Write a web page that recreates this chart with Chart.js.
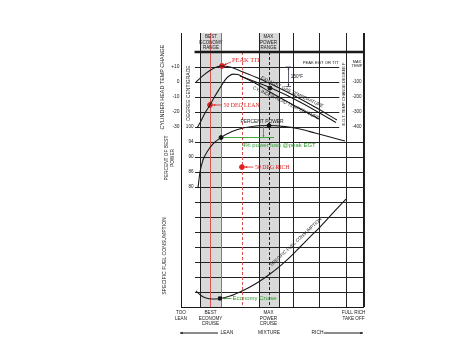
<!DOCTYPE html>
<html><head><meta charset="utf-8">
<script src="https://cdn.jsdelivr.net/npm/chart.js@4.4.1/dist/chart.umd.min.js"></script>
<style>html,body{margin:0;padding:0;background:#fff;}#wrap{width:474px;height:355px;}</style>
</head><body><div id="wrap"><canvas id="c" width="474" height="355"></canvas></div>
<script>
// x: mixture position, 0 = too lean ... 100 = full rich
// y: grid rows counted from the bottom line (row 17 = heavy top line)
const gridX     = [0, 10.4, 15.85, 21.9, 33.3, 42.6, 48.1, 53.6, 61.2, 75.4, 90.2, 100];
const gridKind  = ['k','k','r','r','rd','k','kd','k','k','k','k','k'];
const bandFrom  = [10.4, 42.6];
const bandTo    = [21.9, 53.6];

const chtTicks   = ['+10','0','-10','-20','-30'];
const chtRows    = [16, 15, 14, 13, 12];
const powerTicks = ['100','94','90','86','80'];
const powerRows  = [12, 11, 10, 9, 8];
const egtTicks   = ['-100','-200','-300','-400'];
const egtRows    = [15, 14, 13, 12];

const egtMix  = [8.2, 12.0, 15.8, 19.1, 22.4, 26.8, 33.9, 43.2, 51.4, 61.2, 73.2, 85.2];
const egtRow  = [15.0, 15.43, 15.77, 15.98, 16.07, 16.0, 15.67, 15.2, 14.73, 14.13, 13.33, 12.47];
const egt2Mix = [32.2, 48.6, 65.0, 84.7];
const egt2Row = [15.4, 14.63, 13.67, 12.3];
const chtMix  = [8.74, 10.93, 13.11, 15.85, 18.58, 21.31, 24.04, 26.23, 28.42, 31.15, 34.43, 40.44, 48.63, 62.3, 75.4];
const chtRow  = [11.93, 12.4, 12.93, 13.47, 14.07, 14.6, 15.13, 15.4, 15.53, 15.5, 15.3, 14.93, 14.33, 13.4, 12.53];
const powMix  = [9.29, 10.38, 12.02, 14.21, 17.49, 21.86, 27.87, 33.88, 40.98, 48.09, 56.83, 65.03, 73.22, 81.42, 89.62];
const powRow  = [7.93, 9.0, 9.8, 10.33, 10.87, 11.3, 11.7, 11.93, 12.07, 12.1, 12.03, 11.87, 11.6, 11.33, 11.07];
const sfcMix  = [8.2, 10.93, 13.66, 16.94, 21.31, 26.78, 32.24, 37.7, 43.17, 48.63, 54.1, 59.56, 65.03, 70.49, 75.96, 83.06, 90.16];
const sfcRow  = [1.07, 0.77, 0.6, 0.53, 0.57, 0.73, 1.0, 1.33, 1.73, 2.2, 2.73, 3.33, 4.0, 4.67, 5.33, 6.27, 7.2];

const redMarkMix = [22.4, 15.85, 33.3];      // peak TIT, 50 deg lean, 50 deg rich
const redMarkRow = [16.07, 13.47, 9.33];
const blkMarkMix = [48.6, 48.1, 21.9, 21.3];  // EGT @max power, max power, 94%, economy cruise
const blkMarkRow = [14.6, 12.1, 11.3, 0.57];
const blkMarkStyle = ['circle','rectRot','circle','rect'];

const pts = (xs, ys) => xs.map((v, i) => ({x: v, y: ys[i]}));
const curve = (xs, ys) => ({data: pts(xs, ys), borderColor: '#1a1a1a', borderWidth: 1.1, pointRadius: 0,
  fill: false, cubicInterpolationMode: 'monotone', tension: 0.4});

const SANS = '"Liberation Sans", Arial, sans-serif';
const SERIF = '"Liberation Serif", "Times New Roman", serif';

function txt(ctx, s, x, y, o = {}) {
  ctx.save();
  ctx.font = (o.size || 4.5) + 'px ' + (o.font || SANS);
  ctx.fillStyle = o.color || '#1a1a1a';
  ctx.textAlign = o.align || 'center';
  ctx.textBaseline = 'middle';
  ctx.translate(x, y);
  if (o.rot) ctx.rotate(o.rot * Math.PI / 180);
  ctx.fillText(s, 0, 0);
  ctx.restore();
}
function arrow(ctx, x1, y1, x2, y2, color, head = 2.5, w = 0.8) {
  ctx.save();
  ctx.strokeStyle = color; ctx.fillStyle = color; ctx.lineWidth = w;
  ctx.beginPath(); ctx.moveTo(x1, y1); ctx.lineTo(x2, y2); ctx.stroke();
  const a = Math.atan2(y2 - y1, x2 - x1);
  ctx.beginPath();
  ctx.moveTo(x2, y2);
  ctx.lineTo(x2 - head * Math.cos(a - 0.45), y2 - head * Math.sin(a - 0.45));
  ctx.lineTo(x2 - head * Math.cos(a + 0.45), y2 - head * Math.sin(a + 0.45));
  ctx.closePath(); ctx.fill();
  ctx.restore();
}

const diagram = {
  id: 'diagram',
  beforeDatasetsDraw(chart) {
    const {ctx, scales: {x, y}} = chart;
    const X = v => x.getPixelForValue(v), Y = v => y.getPixelForValue(v);
    ctx.save();
    ctx.fillStyle = '#fff'; ctx.fillRect(0, 0, chart.width, chart.height);
    ctx.fillStyle = '#d9d9d9';
    bandFrom.forEach((a, i) => ctx.fillRect(X(a), Y(y.max), X(bandTo[i]) - X(a), Y(0) - Y(y.max)));
    // horizontal grid rows
    ctx.strokeStyle = '#222'; ctx.lineWidth = 1;
    for (let r = 1; r <= 16; r++) {
      const yy = Math.round(Y(r)) + 0.5;
      ctx.beginPath(); ctx.moveTo(X(7.65), yy); ctx.lineTo(X(r >= 12 ? 86.5 : 100), yy); ctx.stroke();
    }
    // vertical grid lines
    for (let i = 0; i < gridX.length; i++) {
      const k = gridKind[i];
      const xx = Math.round(X(gridX[i])) + 0.5;
      ctx.save();
      ctx.strokeStyle = k.charAt(0) === 'r' ? '#d9534f' : '#222';
      ctx.lineWidth = 1;
      const dashed = k.charAt(1) === 'd';
      ctx.setLineDash(dashed ? [3, 2] : []);
      const top = dashed ? Y(17) : Y(y.max);
      ctx.beginPath(); ctx.moveTo(xx, top); ctx.lineTo(xx, Y(0)); ctx.stroke();
      ctx.restore();
    }
    // heavy line and bottom line
    ctx.strokeStyle = '#1a1a1a'; ctx.lineWidth = 2.5;
    ctx.beginPath(); ctx.moveTo(X(7.4), Y(17)); ctx.lineTo(X(100), Y(17)); ctx.stroke();
    ctx.lineWidth = 1.2;
    ctx.beginPath(); ctx.moveTo(X(0), Math.round(Y(0)) + 0.5); ctx.lineTo(X(100), Math.round(Y(0)) + 0.5); ctx.stroke();
    ctx.restore();
  },
  afterDatasetsDraw(chart) {
    const {ctx, scales: {x, y}} = chart;
    const X = v => x.getPixelForValue(v), Y = v => y.getPixelForValue(v);
    // headers
    ['BEST','ECONOMY','RANGE'].forEach((s, i) => txt(ctx, s, 211, 37 + i * 5.5, {size: 4.5}));
    ['MAX','POWER','RANGE'].forEach((s, i) => txt(ctx, s, 268.5, 37 + i * 5.5, {size: 4.5}));
    // left axis titles & ticks
    txt(ctx, 'CYLINDER HEAD TEMP CHANGE', 163, 87, {size: 5.4, rot: -90});
    txt(ctx, 'PERCENT OF BEST', 167, 158, {size: 4.8, rot: -90});
    txt(ctx, 'POWER', 173, 158, {size: 4.8, rot: -90});
    txt(ctx, 'SPECIFIC FUEL CONSUMPTION', 165, 256, {size: 5.1, rot: -90});
    txt(ctx, 'DEGREE CENTIGRADE', 189, 93, {size: 5, rot: -90});
    chtTicks.forEach((s, i) => txt(ctx, s, 179.5, Y(chtRows[i]), {size: 4.9, align: 'right'}));
    powerTicks.forEach((s, i) => txt(ctx, s, 193.5, Y(powerRows[i]), {size: 4.6, align: 'right'}));
    // right side
    txt(ctx, 'PEAK EGT OR TIT', 338.5, 63, {size: 4.2, align: 'right'});
    txt(ctx, 'MAX', 357, 61.5, {size: 3.9});
    txt(ctx, 'TEMP', 357, 66, {size: 3.9});
    egtTicks.forEach((s, i) => txt(ctx, s, 357, Y(egtRows[i]), {size: 4.6}));
    txt(ctx, 'E.G.T. TEMP CHANGE DEGREE F', 343.5, 94, {size: 4, rot: -90});
    // bottom labels
    txt(ctx, 'TOO', 181, 313, {size: 4.6}); txt(ctx, 'LEAN', 181, 318.5, {size: 4.6});
    ['BEST','ECONOMY','CRUISE'].forEach((s, i) => txt(ctx, s, 210.5, 313 + i * 5.5, {size: 4.6}));
    ['MAX','POWER','CRUISE'].forEach((s, i) => txt(ctx, s, 268.5, 313 + i * 5.5, {size: 4.6}));
    txt(ctx, 'FULL RICH', 353.5, 313, {size: 4.6}); txt(ctx, 'TAKE OFF', 353.5, 318.5, {size: 4.6});
    arrow(ctx, 218, 333, 180, 333, '#1a1a1a', 3, 1);
    txt(ctx, 'LEAN', 227, 333, {size: 4.9});
    txt(ctx, 'MIXTURE', 269, 333, {size: 4.9});
    txt(ctx, 'RICH', 317.5, 333, {size: 4.9});
    arrow(ctx, 324, 333, 363, 333, '#1a1a1a', 3, 1);
    // curve labels
    txt(ctx, 'EXHAUST GAS TEMPERATURE', 292, 92, {size: 4.6, rot: 25});
    txt(ctx, 'CYLINDER HEAD TEMPERATURE', 286, 103, {size: 4.6, rot: 25});
    txt(ctx, 'PERCENT POWER', 262, 122, {size: 4.9});
    txt(ctx, 'SPECIFIC FUEL CONSUMPTION', 296, 242, {size: 4.5, rot: -43});
    // 150F bracket
    ctx.save(); ctx.strokeStyle = '#334'; ctx.lineWidth = 0.8;
    ctx.beginPath(); ctx.moveTo(285.5, Y(16)); ctx.lineTo(291, Y(16)); ctx.moveTo(285.5, Y(14.7)); ctx.lineTo(291, Y(14.7)); ctx.stroke();
    ctx.restore();
    arrow(ctx, 288.5, 77, 288.5, Y(16) + 0.5, '#334', 2.2);
    arrow(ctx, 288.5, 77, 288.5, Y(14.7) - 0.5, '#334', 2.2);
    txt(ctx, '150°F', 297, 76.5, {size: 4.6});
    // red annotations
    const R = '#e02020';
    txt(ctx, 'PEAK TIT', 232, 60.5, {size: 6.4, font: SERIF, color: R, align: 'left'});
    arrow(ctx, 231, 62, X(redMarkMix[0]) + 2, Y(redMarkRow[0]) - 1, R, 2.5);
    txt(ctx, '50 DEG LEAN', 223.5, 105.5, {size: 5.8, font: SERIF, color: R, align: 'left'});
    arrow(ctx, 222, Y(redMarkRow[1]), X(redMarkMix[1]) + 3, Y(redMarkRow[1]), R, 2.5);
    txt(ctx, '50 DEG RICH', 255, 167.5, {size: 5.8, font: SERIF, color: R, align: 'left'});
    arrow(ctx, 253.5, Y(redMarkRow[2]), X(redMarkMix[2]) + 3, Y(redMarkRow[2]), R, 2.5);
    // green annotations
    const G = '#2f9a2f';
    ctx.save(); ctx.strokeStyle = G; ctx.lineWidth = 0.9;
    ctx.beginPath(); ctx.moveTo(X(blkMarkMix[2]) + 2, Y(blkMarkRow[2])); ctx.lineTo(274, Y(blkMarkRow[2])); ctx.stroke();
    ctx.restore();
    arrow(ctx, 263.5, 132, 263.5, Y(blkMarkRow[1]) + 0.5, G, 2.2);
    arrow(ctx, 263.5, 132, 263.5, Y(blkMarkRow[2]) - 0.5, G, 2.2);
    txt(ctx, '4% power loss @peak EGT', 242, 145.5, {size: 6, color: G, align: 'left'});
    txt(ctx, 'Economy Cruise', 232.5, 298.5, {size: 6, color: G, align: 'left'});
    arrow(ctx, 231.5, 298.5, X(blkMarkMix[3]) + 3, Y(blkMarkRow[3]), G, 2.2);
    // outer borders
    ctx.save(); ctx.strokeStyle = '#1a1a1a'; ctx.lineWidth = 1;
    ctx.beginPath(); ctx.moveTo(Math.round(X(0)) + 0.5, Y(y.max)); ctx.lineTo(Math.round(X(0)) + 0.5, Y(0));
    ctx.moveTo(Math.round(X(100)) - 0.5, Y(y.max)); ctx.lineTo(Math.round(X(100)) - 0.5, Y(0)); ctx.stroke();
    ctx.restore();
  }
};

new Chart(document.getElementById('c'), {
  type: 'line',
  data: {
    datasets: [
      curve(egtMix, egtRow),
      curve(egt2Mix, egt2Row),
      curve(chtMix, chtRow),
      curve(powMix, powRow),
      curve(sfcMix, sfcRow),
      {data: pts(redMarkMix, redMarkRow), showLine: false, pointRadius: 2.4, pointBackgroundColor: '#e02020',
        pointBorderColor: '#e02020', pointStyle: 'circle'},
      {data: pts(blkMarkMix, blkMarkRow), showLine: false, pointRadius: [2, 2.6, 2, 2.2], pointBackgroundColor: '#111',
        pointBorderColor: '#111', pointStyle: blkMarkStyle}
    ]
  },
  options: {
    responsive: false, animation: false, devicePixelRatio: 1,
    layout: {padding: {left: 181, right: 110, top: 33, bottom: 48}},
    plugins: {legend: {display: false}, tooltip: {enabled: false}},
    scales: {
      x: {type: 'linear', min: 0, max: 100, display: false},
      y: {type: 'linear', min: 0, max: 18.27, display: false}
    }
  },
  plugins: [diagram]
});
</script>
</body></html>
